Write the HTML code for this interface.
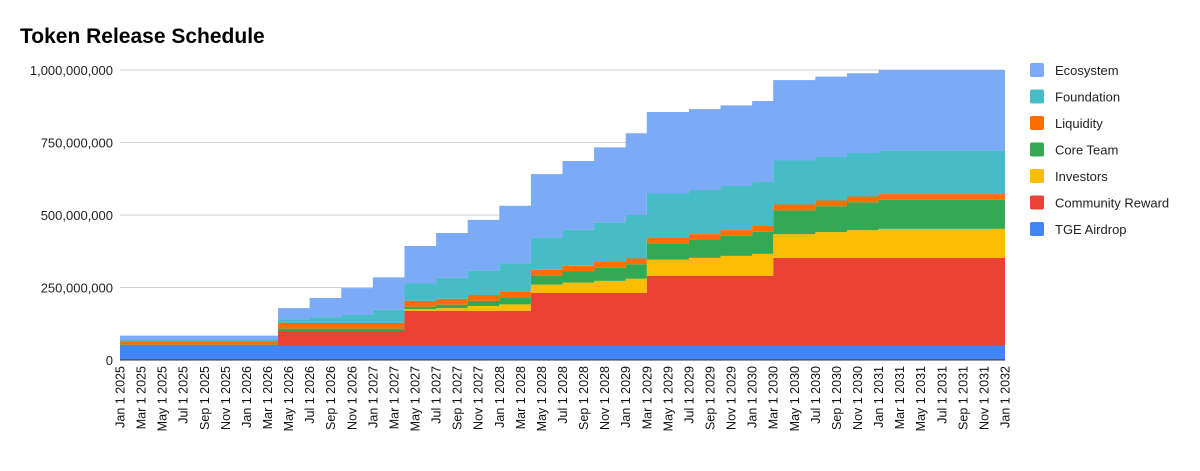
<!DOCTYPE html>
<html><head><meta charset="utf-8"><style>
body{margin:0;background:#fff;font-family:"Liberation Sans",Arial,sans-serif;}
svg text{font-family:"Liberation Sans",Arial,sans-serif;}
</style></head><body>
<svg id="chart" width="1200" height="466" viewBox="0 0 1200 466">
<text x="20" y="43" font-size="21" font-weight="bold" fill="#000">Token Release Schedule</text>
<g id="grid"></g><g id="areas"></g><g id="axes"></g><g id="legend"></g>
</svg>
<script>
// data points, month index from Jan 2025
const quarterMonths = [0,3,6,9,12,15,18,21,24,27,30,33,36,39,42,45,48,50,54,57,60,62,66,69,72,75,78,81,84];
const tgeAirdrop = [50,50,50,50,50,50,50,50,50,50,50,50,50,50,50,50,50,50,50,50,50,50,50,50,50,50,50,50,50];
const communityReward = [0,0,0,0,0,50,50,50,50,120,120,120,120,181,181,181,181,240,240,240,240,302,302,302,302,302,302,302,302];
const investors = [0,0,0,0,0,0,0,0,0,6,9,16,22,29,36,42,49,56,62,69,76,82,89,96,100,100,100,100,100];
const coreTeam = [3,3,3,3,3,8,8,8,8,8,12,18,25,31,38,45,50,56,62,69,76,82,89,96,100,100,100,100,100];
const liquidity = [11,11,11,11,11,20,20,20,20,20,20,20,20,20,20,20,20,20,20,20,20,20,20,20,20,20,20,20,20];
const foundation = [5,5,5,5,5,13,20,27,45,60,72,84,96,111,124,137,150,152,152,152,152,152,150,150,150,150,150,150,150];
const ecosystem = [15,15,15,15,15,38,66,93,112,129,155,175,199,219,237,258,282,281,279,278,279,277,277,275,278,278,278,278,278];
const yTicks = [0,250,500,750,1000];
const yTickLabels = ["0","250,000,000","500,000,000","750,000,000","1,000,000,000"];
const monthNames = ["Jan","Mar","May","Jul","Sep","Nov"];

const NS="http://www.w3.org/2000/svg";
const X0=120,X1=1005,Y0=360,Y1=70;
const xScale=m=>X0+(X1-X0)*m/84;
const yScale=v=>Y0-(Y0-Y1)*v/1000;
function mk(tag,attrs,parent){const e=document.createElementNS(NS,tag);for(const k in attrs)e.setAttribute(k,attrs[k]);parent.appendChild(e);return e;}

const series=[
 {name:"TGE Airdrop",vals:tgeAirdrop,color:"#4285f4",key:"tge-airdrop"},
 {name:"Community Reward",vals:communityReward,color:"#ea4335",key:"community-reward"},
 {name:"Investors",vals:investors,color:"#fbbc04",key:"investors"},
 {name:"Core Team",vals:coreTeam,color:"#34a853",key:"core-team"},
 {name:"Liquidity",vals:liquidity,color:"#ff6d01",key:"liquidity"},
 {name:"Foundation",vals:foundation,color:"#46bdc6",key:"foundation"},
 {name:"Ecosystem",vals:ecosystem,color:"#7baaf7",key:"ecosystem"}
];
const grid=document.getElementById('grid');
yTicks.forEach((t,i)=>{
  if(t>0){const l=mk('line',{x1:X0,x2:X1,y1:yScale(t),y2:yScale(t),stroke:"#d0d0d0","stroke-width":1},grid);
  
  }
  const tx=mk('text',{x:113,y:yScale(t)+5,"text-anchor":"end","font-size":13,fill:"#222"},grid);
  tx.textContent=yTickLabels[i];
  
  
});
const areas=document.getElementById('areas');
let base=quarterMonths.map(()=>0);
series.forEach(s=>{
  const top=base.map((b,i)=>b+s.vals[i]);
  let up="",down="";
  for(let i=0;i<quarterMonths.length;i++){
    const xa=xScale(quarterMonths[i]);
    const xb=i<quarterMonths.length-1?xScale(quarterMonths[i+1]):X1;
    up+=(i===0?"M":"L")+xa+","+yScale(top[i])+"L"+xb+","+yScale(top[i]);
  }
  for(let i=quarterMonths.length-1;i>=0;i--){
    const xa=xScale(quarterMonths[i]);
    const xb=i<quarterMonths.length-1?xScale(quarterMonths[i+1]):X1;
    down+="L"+xb+","+yScale(base[i])+"L"+xa+","+yScale(base[i]);
  }
  const p=mk('path',{d:up+down+"Z",fill:s.color},areas);
  
  
  base=top;
});
const axes=document.getElementById('axes');
const bl=mk('line',{x1:X0,x2:X1,y1:Y0,y2:Y0,stroke:"#333","stroke-width":1},axes);


for(let k=0;k<=42;k++){
  const m=k*2, yr=2025+Math.floor(m/12), lab=monthNames[(m%12)/2]+" 1 "+yr;
  const x=xScale(m)+4.5;
  const t=mk('text',{x:x,y:366,"text-anchor":"end","font-size":12.5,fill:"#111",transform:"rotate(-90 "+x+" 366)"},axes);
  t.textContent=lab;
  
  
}
const lg=document.getElementById('legend');
series.slice().reverse().forEach((s,i)=>{
  const y=70+i*26.5;
  const r=mk('rect',{x:1030,y:y-7,width:14,height:14,rx:2,fill:s.color},lg);
  
  
  const t=mk('text',{x:1055,y:y+5,"font-size":13,fill:"#222"},lg);
  t.textContent=s.name;
  
  
});
</script>
</body></html>
